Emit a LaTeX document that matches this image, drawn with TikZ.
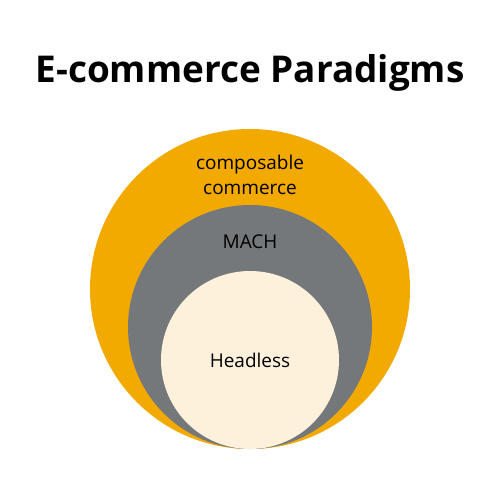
\documentclass[tikz,border=0pt]{standalone}
\usepackage{fontspec}
\setmainfont{Open Sans}
\usetikzlibrary{positioning}

\definecolor{composablecol}{RGB}{242,169,0}
\definecolor{machcol}{RGB}{117,120,123}
\definecolor{headlesscol}{RGB}{253,241,219}

\begin{document}
\begin{tikzpicture}[
    x=0.2mm, y=-0.2mm,
    ring/.style = {circle, inner sep=0pt, draw=none},
    heading/.style = {font=\fontsize{21}{25}\selectfont\bfseries},
    tag/.style = {font=\fontsize{10.8}{14.2}\selectfont, align=center}
    ]
    \useasboundingbox (0,0) rectangle (500,500);
    % nested circles, all touching at the bottom
    \node[ring, fill=composablecol, minimum size=64mm] (composable) at (250,289) {};
    \node[ring, fill=machcol, minimum size=48.8mm] (mach) at (250,327) {};
    \node[ring, fill=headlesscol, minimum size=35.6mm] (headless) at (250,360) {};

    \node[heading] (title) at (250,73) {E-commerce Paradigms};
    \node[tag] (composable-label) at (250,175) {composable\\commerce};
    \node[tag] (mach-label) at (250,242) {MACH};
    \node[tag] (headless-label) at (headless) {Headless};
\end{tikzpicture}
\end{document}
